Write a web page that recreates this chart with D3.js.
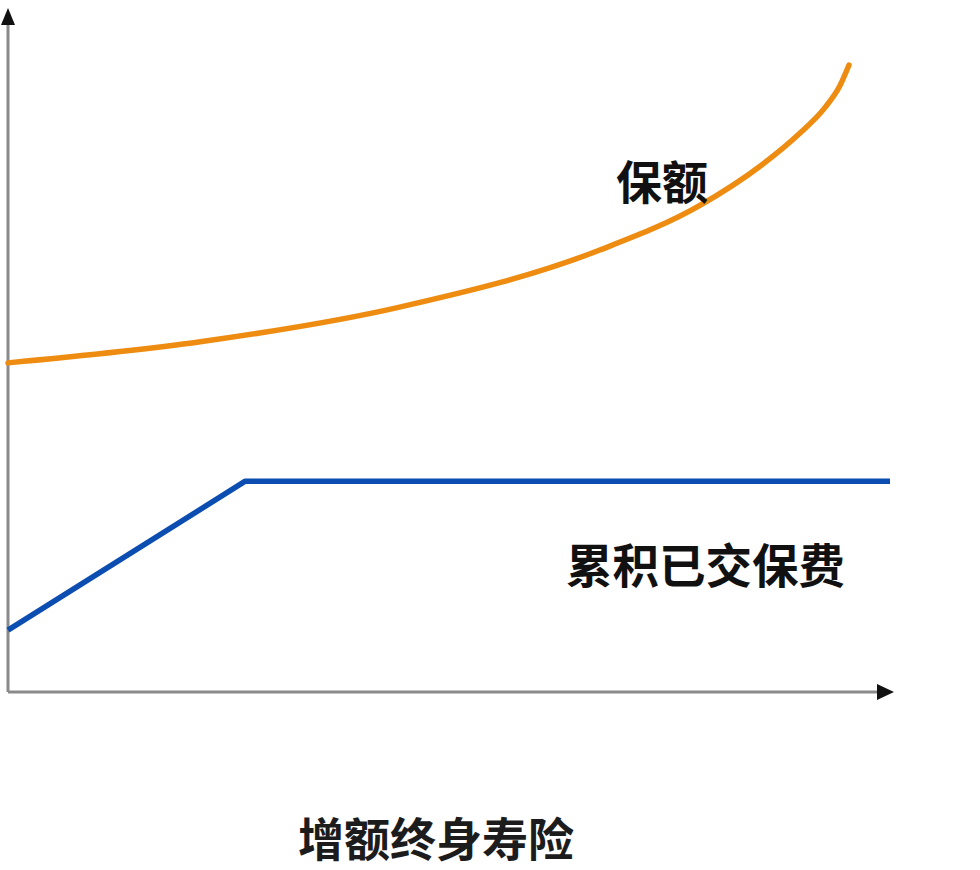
<!DOCTYPE html>
<html>
<head>
<meta charset="utf-8">
<script src="https://cdn.jsdelivr.net/npm/d3@7"></script>
<style>
  html, body { margin: 0; padding: 0; background: #ffffff; }
  svg { display: block; }
</style>
</head>
<body>
<svg id="chart" width="980" height="870"></svg>
<script>
// ---- data (arbitrary units: x = policy time, y = amount) ----
const sumAssuredX = [0, 21.8, 44.4, 67.1, 78.5, 85.3, 89.8, 92.6, 94.3, 95.35];
const sumAssuredY = [48.4, 51.5, 56.6, 65.0, 71.6, 77.35, 82.2, 85.9, 89.1, 92.2];
const premiumX = [0, 26.9, 100];
const premiumY = [9.1, 31.0, 31.0];
const labelSumAssured = "保额";
const labelPremium = "累积已交保费";
const chartTitle = "增额终身寿险";

const svg = d3.select("#chart");
const x = d3.scaleLinear().domain([0, 100]).range([8, 890]);
const y = d3.scaleLinear().domain([0, 100]).range([692, 12]);

// axes
const axisColor = "#8a8a8a";
svg.append("line").attr("x1", x(0)).attr("x2", 880).attr("y1", y(0)).attr("y2", y(0))
  .attr("stroke", axisColor).attr("stroke-width", 3);
svg.append("line").attr("x1", x(0)).attr("x2", x(0)).attr("y1", y(0)).attr("y2", 22)
  .attr("stroke", axisColor).attr("stroke-width", 3);
// arrowheads
svg.append("path").attr("d", `M${x(0)},8 L${x(0)-7},25 L${x(0)+7},25 Z`).attr("fill", "#111");
svg.append("path").attr("d", `M894,${y(0)} L877,${y(0)-8} L877,${y(0)+8} Z`).attr("fill", "#111");

// lines
const orangeData = sumAssuredX.map((v, i) => [v, sumAssuredY[i]]);
const blueData = premiumX.map((v, i) => [v, premiumY[i]]);

const lineGen = d3.line().x(d => x(d[0])).y(d => y(d[1])).curve(d3.curveMonotoneX);
const lineLin = d3.line().x(d => x(d[0])).y(d => y(d[1]));

svg.append("path").datum(orangeData).attr("d", lineGen)
  .attr("fill", "none").attr("stroke", "#ee8c12").attr("stroke-width", 5.5)
  .attr("stroke-linecap", "round");
svg.append("path").datum(blueData).attr("d", lineLin)
  .attr("fill", "none").attr("stroke", "#0b4db0").attr("stroke-width", 5.5)
  .attr("stroke-linejoin", "round");

// labels
const font = "'Noto Sans CJK SC', 'Noto Sans', sans-serif";
svg.append("text").attr("x", 616).attr("y", 199).text(labelSumAssured)
  .attr("font-family", font).attr("font-size", 46).attr("font-weight", 700).attr("fill", "#111");
svg.append("text").attr("x", 566).attr("y", 583).text(labelPremium)
  .attr("font-family", font).attr("font-size", 46.5).attr("font-weight", 700).attr("fill", "#111");
svg.append("text").attr("x", 298).attr("y", 856).text(chartTitle)
  .attr("font-family", font).attr("font-size", 46).attr("font-weight", 700).attr("fill", "#1c1c1c");
</script>
</body>
</html>
